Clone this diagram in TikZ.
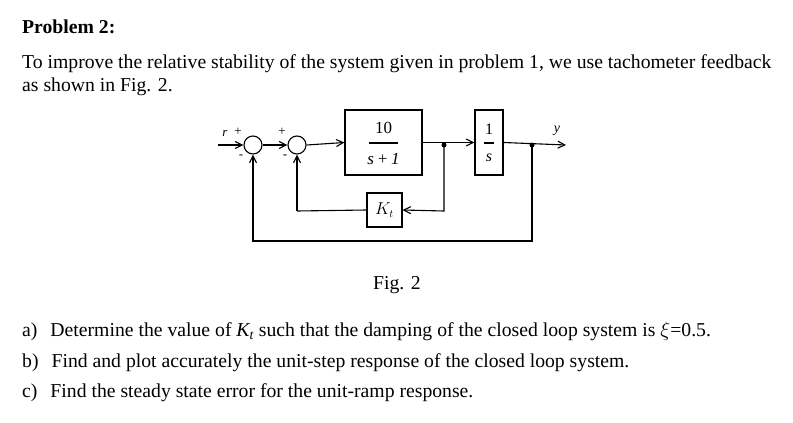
\documentclass[tikz,border=0pt]{standalone}
\usepackage{fontspec}
\setmainfont{Liberation Serif}
\usetikzlibrary{arrows.meta}
\begin{document}
\begin{tikzpicture}[x=1pt,y=-1pt,
  blk/.style={draw,line width=1.1pt,inner sep=0pt},
  sum/.style={draw,circle,line width=1.1pt,minimum size=18pt,inner sep=0pt},
  ln/.style={line width=1.1pt},
  ar/.style={ln,-{Straight Barb[length=7pt,width=7pt]}},
  dot/.style={circle,fill,inner sep=0pt,minimum size=5pt},
  txt/.style={anchor=base west,inner sep=0pt,font=\fontsize{19.7}{22}\selectfont},
  sm/.style={inner sep=0pt,font=\fontsize{13}{14}\selectfont}]
\useasboundingbox (0,0) rectangle (793,423);
\node[txt,font=\fontsize{19.7}{22}\selectfont\bfseries] (h) at (22,34) {Problem 2:};
\node[txt] (l1) at (22,68) {To improve the relative stability of the system given in problem 1, we use tachometer feedback};
\node[txt] (l2) at (22,91) {as shown in Fig. 2.};
\node[txt,anchor=base] (f) at (397,289) {Fig. 2};
\node[txt] (a) at (22,336) {a)\hspace{13pt}Determine the value of \textit{K\textsubscript{t}} such that the damping of the closed loop system is $\xi$=0.5.};
\node[txt] (b) at (22,367) {b)\hspace{13pt}Find and plot accurately the unit-step response of the closed loop system.};
\node[txt] (c) at (22,397) {c)\hspace{13pt}Find the steady state error for the unit-ramp response.};
% diagram
\node[sum] (s1) at (253,145) {};
\node[sum] (s2) at (297,145) {};
\node[blk,minimum width=77pt,minimum height=65pt] (g1) at (383.5,142.5) {};
\node[sm,font=\fontsize{17}{18}\selectfont] (n1) at (383.5,128) {10};
\node[sm,font=\fontsize{17}{18}\selectfont\itshape] (d1) at (383.5,159) {s\,+\,1};
\draw[ln] (369,143) -- (398,143);
\node[blk,minimum width=28pt,minimum height=65pt] (g2) at (489,142.5) {};
\node[sm,font=\fontsize{16}{18}\selectfont] (n2) at (489,129) {1};
\node[sm,font=\fontsize{16}{18}\selectfont\itshape] (d2) at (489,158) {s};
\draw[ln] (484,143) -- (494,143);
\node[blk,minimum width=35pt,minimum height=34pt,font=\fontsize{16}{18}\selectfont] (kt) at (384.5,210) {$K_t$};
\coordinate (r) at (218,145);
\coordinate (y) at (566,145);
\node[dot] (j1) at (444,145) {};
\node[dot] (j2) at (532,145) {};
\coordinate (b1) at (532,241);
\coordinate (b2) at (253,241);
\coordinate (k1) at (444,211);
\coordinate (k2) at (297,211);
\draw[ar] (r) -- (s1.west);
\draw[ar] (s1.east) -- (s2.west);
\draw[ar] (s2.east) -- (g1.west);
\draw[ar] (g1.east) -- (g2.west);
\draw[ar] (g2.east) -- (y);
\draw[ar] (j2.center) -- (b1) -- (b2) -- (s1.south);
\draw[ar] (j1.center) -- (k1) -- (kt.east);
\draw[ln] (kt.west) -- (k2);
\draw[ar] (k2) -- (s2.south);
\node[sm,font=\fontsize{13}{14}\selectfont\itshape] (rl) at (225,133) {r};
\node[sm] (p1) at (238,132) {+};
\node[sm] (p2) at (282,132) {+};
\node[sm] (m1) at (241,157) {-};
\node[sm] (m2) at (285,157) {-};
\node[sm,font=\fontsize{14}{14}\selectfont\itshape] (yl) at (557,131) {y};
\end{tikzpicture}
\end{document}
